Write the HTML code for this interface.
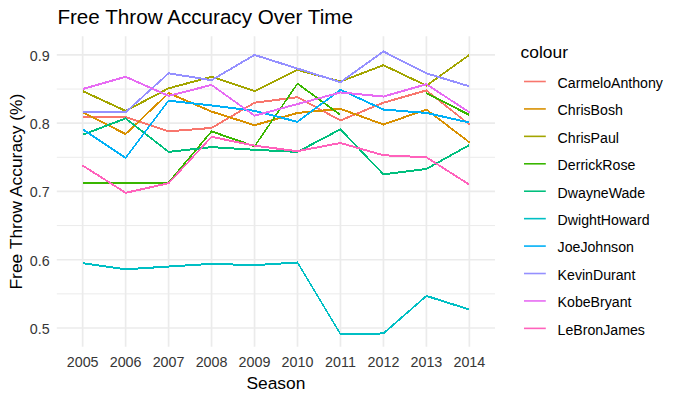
<!DOCTYPE html>
<html><head><meta charset="utf-8"><style>
html,body{margin:0;padding:0;background:#fff;width:680px;height:400px;overflow:hidden}
svg{display:block}
text{font-family:"Liberation Sans",sans-serif}
</style></head><body>
<svg width="680" height="400" viewBox="0 0 680 400">
<rect x="0" y="0" width="680" height="400" fill="#fff"/>
<line x1="56.8" x2="495.0" y1="293.86" y2="293.86" stroke="#EBEBEB" stroke-width="1.0"/>
<line x1="56.8" x2="495.0" y1="225.59" y2="225.59" stroke="#EBEBEB" stroke-width="1.0"/>
<line x1="56.8" x2="495.0" y1="157.31" y2="157.31" stroke="#EBEBEB" stroke-width="1.0"/>
<line x1="56.8" x2="495.0" y1="89.04" y2="89.04" stroke="#EBEBEB" stroke-width="1.0"/>
<line x1="56.8" x2="495.0" y1="328.00" y2="328.00" stroke="#EBEBEB" stroke-width="1.7"/>
<line x1="56.8" x2="495.0" y1="259.73" y2="259.73" stroke="#EBEBEB" stroke-width="1.7"/>
<line x1="56.8" x2="495.0" y1="191.45" y2="191.45" stroke="#EBEBEB" stroke-width="1.7"/>
<line x1="56.8" x2="495.0" y1="123.17" y2="123.17" stroke="#EBEBEB" stroke-width="1.7"/>
<line x1="56.8" x2="495.0" y1="54.90" y2="54.90" stroke="#EBEBEB" stroke-width="1.7"/>
<line x1="82.65" x2="82.65" y1="36.3" y2="346.7" stroke="#EBEBEB" stroke-width="1.7"/>
<line x1="125.62" x2="125.62" y1="36.3" y2="346.7" stroke="#EBEBEB" stroke-width="1.7"/>
<line x1="168.59" x2="168.59" y1="36.3" y2="346.7" stroke="#EBEBEB" stroke-width="1.7"/>
<line x1="211.56" x2="211.56" y1="36.3" y2="346.7" stroke="#EBEBEB" stroke-width="1.7"/>
<line x1="254.53" x2="254.53" y1="36.3" y2="346.7" stroke="#EBEBEB" stroke-width="1.7"/>
<line x1="297.50" x2="297.50" y1="36.3" y2="346.7" stroke="#EBEBEB" stroke-width="1.7"/>
<line x1="340.47" x2="340.47" y1="36.3" y2="346.7" stroke="#EBEBEB" stroke-width="1.7"/>
<line x1="383.44" x2="383.44" y1="36.3" y2="346.7" stroke="#EBEBEB" stroke-width="1.7"/>
<line x1="426.41" x2="426.41" y1="36.3" y2="346.7" stroke="#EBEBEB" stroke-width="1.7"/>
<line x1="469.38" x2="469.38" y1="36.3" y2="346.7" stroke="#EBEBEB" stroke-width="1.7"/>
<g fill="none" stroke="#F8766D" stroke-width="1.0" stroke-linejoin="round" shape-rendering="crispEdges"><polyline points="82.65,117.03 125.62,117.03 168.59,131.37 211.56,127.95 254.53,102.69 297.50,97.23 340.47,120.44 383.44,102.69 426.41,90.40 469.38,124.54" transform="translate(0,-0.5)"/><polyline points="82.65,117.03 125.62,117.03 168.59,131.37 211.56,127.95 254.53,102.69 297.50,97.23 340.47,120.44 383.44,102.69 426.41,90.40 469.38,124.54" transform="translate(0,0.5)"/></g>
<g fill="none" stroke="#D89000" stroke-width="1.0" stroke-linejoin="round" shape-rendering="crispEdges"><polyline points="82.65,112.25 125.62,134.10 168.59,93.13 211.56,111.57 254.53,125.22 297.50,112.93 340.47,108.84 383.44,124.54 426.41,109.52 469.38,142.29" transform="translate(0,-0.5)"/><polyline points="82.65,112.25 125.62,134.10 168.59,93.13 211.56,111.57 254.53,125.22 297.50,112.93 340.47,108.84 383.44,124.54 426.41,109.52 469.38,142.29" transform="translate(0,0.5)"/></g>
<g fill="none" stroke="#A3A500" stroke-width="1.0" stroke-linejoin="round" shape-rendering="crispEdges"><polyline points="82.65,91.09 125.62,110.89 168.59,88.35 211.56,76.75 254.53,91.09 297.50,69.92 340.47,81.53 383.44,65.14 426.41,85.62 469.38,54.90" transform="translate(0,-0.5)"/><polyline points="82.65,91.09 125.62,110.89 168.59,88.35 211.56,76.75 254.53,91.09 297.50,69.92 340.47,81.53 383.44,65.14 426.41,85.62 469.38,54.90" transform="translate(0,0.5)"/></g>
<g fill="none" stroke="#39B600" stroke-width="1.0" stroke-linejoin="round" shape-rendering="crispEdges"><polyline points="82.65,182.57 125.62,182.57 168.59,182.57 211.56,131.37 254.53,146.39 297.50,83.58 340.47,114.98" transform="translate(0,-0.5)"/><polyline points="82.65,182.57 125.62,182.57 168.59,182.57 211.56,131.37 254.53,146.39 297.50,83.58 340.47,114.98" transform="translate(0,0.5)"/></g>
<g fill="none" stroke="#39B600" stroke-width="1.0" stroke-linejoin="round" shape-rendering="crispEdges"><polyline points="426.41,93.13 469.38,114.98" transform="translate(0,-0.5)"/><polyline points="426.41,93.13 469.38,114.98" transform="translate(0,0.5)"/></g>
<g fill="none" stroke="#00BF7D" stroke-width="1.0" stroke-linejoin="round" shape-rendering="crispEdges"><polyline points="82.65,134.78 125.62,118.40 168.59,151.85 211.56,147.07 254.53,149.80 297.50,151.85 340.47,129.32 383.44,174.38 426.41,168.92 469.38,145.02" transform="translate(0,-0.5)"/><polyline points="82.65,134.78 125.62,118.40 168.59,151.85 211.56,147.07 254.53,149.80 297.50,151.85 340.47,129.32 383.44,174.38 426.41,168.92 469.38,145.02" transform="translate(0,0.5)"/></g>
<g fill="none" stroke="#00BFC4" stroke-width="1.0" stroke-linejoin="round" shape-rendering="crispEdges"><polyline points="82.65,263.14 125.62,269.28 168.59,266.55 211.56,263.82 254.53,265.19 297.50,262.46 340.47,334.14 383.44,333.46 426.41,295.91 469.38,309.57" transform="translate(0,-0.5)"/><polyline points="82.65,263.14 125.62,269.28 168.59,266.55 211.56,263.82 254.53,265.19 297.50,262.46 340.47,334.14 383.44,333.46 426.41,295.91 469.38,309.57" transform="translate(0,0.5)"/></g>
<g fill="none" stroke="#00B0F6" stroke-width="1.0" stroke-linejoin="round" shape-rendering="crispEdges"><polyline points="82.65,129.32 125.62,158.00 168.59,100.64 211.56,105.42 254.53,110.89 297.50,121.81 340.47,89.72 383.44,109.52 426.41,112.93 469.38,122.49" transform="translate(0,-0.5)"/><polyline points="82.65,129.32 125.62,158.00 168.59,100.64 211.56,105.42 254.53,110.89 297.50,121.81 340.47,89.72 383.44,109.52 426.41,112.93 469.38,122.49" transform="translate(0,0.5)"/></g>
<g fill="none" stroke="#9590FF" stroke-width="1.0" stroke-linejoin="round" shape-rendering="crispEdges"><polyline points="82.65,112.25 125.62,112.25 168.59,73.33 211.56,80.16 254.53,54.90 297.50,68.56 340.47,82.21 383.44,51.49 426.41,73.33 469.38,86.31" transform="translate(0,-0.5)"/><polyline points="82.65,112.25 125.62,112.25 168.59,73.33 211.56,80.16 254.53,54.90 297.50,68.56 340.47,82.21 383.44,51.49 426.41,73.33 469.38,86.31" transform="translate(0,0.5)"/></g>
<g fill="none" stroke="#E76BF3" stroke-width="1.0" stroke-linejoin="round" shape-rendering="crispEdges"><polyline points="82.65,89.04 125.62,76.75 168.59,95.87 211.56,84.94 254.53,115.66 297.50,104.06 340.47,92.45 383.44,96.55 426.41,84.26 469.38,112.25" transform="translate(0,-0.5)"/><polyline points="82.65,89.04 125.62,76.75 168.59,95.87 211.56,84.94 254.53,115.66 297.50,104.06 340.47,92.45 383.44,96.55 426.41,84.26 469.38,112.25" transform="translate(0,0.5)"/></g>
<g fill="none" stroke="#FF62BC" stroke-width="1.0" stroke-linejoin="round" shape-rendering="crispEdges"><polyline points="82.65,165.51 125.62,192.82 168.59,183.26 211.56,136.83 254.53,145.71 297.50,151.17 340.47,142.97 383.44,155.26 426.41,157.31 469.38,184.62" transform="translate(0,-0.5)"/><polyline points="82.65,165.51 125.62,192.82 168.59,183.26 211.56,136.83 254.53,145.71 297.50,151.17 340.47,142.97 383.44,155.26 426.41,157.31 469.38,184.62" transform="translate(0,0.5)"/></g>
<text x="49.6" y="333.90" text-anchor="end" font-size="14.3" fill="#363636">0.5</text>
<text x="49.6" y="265.62" text-anchor="end" font-size="14.3" fill="#363636">0.6</text>
<text x="49.6" y="197.35" text-anchor="end" font-size="14.3" fill="#363636">0.7</text>
<text x="49.6" y="129.07" text-anchor="end" font-size="14.3" fill="#363636">0.8</text>
<text x="49.6" y="60.80" text-anchor="end" font-size="14.3" fill="#363636">0.9</text>
<text x="82.65" y="367.1" text-anchor="middle" font-size="14.3" fill="#363636">2005</text>
<text x="125.62" y="367.1" text-anchor="middle" font-size="14.3" fill="#363636">2006</text>
<text x="168.59" y="367.1" text-anchor="middle" font-size="14.3" fill="#363636">2007</text>
<text x="211.56" y="367.1" text-anchor="middle" font-size="14.3" fill="#363636">2008</text>
<text x="254.53" y="367.1" text-anchor="middle" font-size="14.3" fill="#363636">2009</text>
<text x="297.50" y="367.1" text-anchor="middle" font-size="14.3" fill="#363636">2010</text>
<text x="340.47" y="367.1" text-anchor="middle" font-size="14.3" fill="#363636">2011</text>
<text x="383.44" y="367.1" text-anchor="middle" font-size="14.3" fill="#363636">2012</text>
<text x="426.41" y="367.1" text-anchor="middle" font-size="14.3" fill="#363636">2013</text>
<text x="469.38" y="367.1" text-anchor="middle" font-size="14.3" fill="#363636">2014</text>
<text x="275.9" y="388.6" text-anchor="middle" font-size="17.4" fill="#000">Season</text>
<text transform="translate(21.6,191.6) rotate(-90)" x="0" y="0" text-anchor="middle" font-size="17.4" fill="#000">Free Throw Accuracy (%)</text>
<text x="57.4" y="24.1" font-size="20.65" fill="#000">Free Throw Accuracy Over Time</text>
<text x="520.6" y="58.4" font-size="17.4" fill="#000">colour</text>
<line x1="524.0" x2="545.8" y1="81.50" y2="81.50" stroke="#F8766D" stroke-width="1.6"/>
<text x="557.6" y="87.80" font-size="14.15" fill="#000">CarmeloAnthony</text>
<line x1="524.0" x2="545.8" y1="108.93" y2="108.93" stroke="#D89000" stroke-width="1.6"/>
<text x="557.6" y="115.23" font-size="14.15" fill="#000">ChrisBosh</text>
<line x1="524.0" x2="545.8" y1="136.36" y2="136.36" stroke="#A3A500" stroke-width="1.6"/>
<text x="557.6" y="142.66" font-size="14.15" fill="#000">ChrisPaul</text>
<line x1="524.0" x2="545.8" y1="163.79" y2="163.79" stroke="#39B600" stroke-width="1.6"/>
<text x="557.6" y="170.09" font-size="14.15" fill="#000">DerrickRose</text>
<line x1="524.0" x2="545.8" y1="191.22" y2="191.22" stroke="#00BF7D" stroke-width="1.6"/>
<text x="557.6" y="197.52" font-size="14.15" fill="#000">DwayneWade</text>
<line x1="524.0" x2="545.8" y1="218.65" y2="218.65" stroke="#00BFC4" stroke-width="1.6"/>
<text x="557.6" y="224.95" font-size="14.15" fill="#000">DwightHoward</text>
<line x1="524.0" x2="545.8" y1="246.08" y2="246.08" stroke="#00B0F6" stroke-width="1.6"/>
<text x="557.6" y="252.38" font-size="14.15" fill="#000">JoeJohnson</text>
<line x1="524.0" x2="545.8" y1="273.51" y2="273.51" stroke="#9590FF" stroke-width="1.6"/>
<text x="557.6" y="279.81" font-size="14.15" fill="#000">KevinDurant</text>
<line x1="524.0" x2="545.8" y1="300.94" y2="300.94" stroke="#E76BF3" stroke-width="1.6"/>
<text x="557.6" y="307.24" font-size="14.15" fill="#000">KobeBryant</text>
<line x1="524.0" x2="545.8" y1="328.37" y2="328.37" stroke="#FF62BC" stroke-width="1.6"/>
<text x="557.6" y="334.67" font-size="14.15" fill="#000">LeBronJames</text>
</svg>
</body></html>
